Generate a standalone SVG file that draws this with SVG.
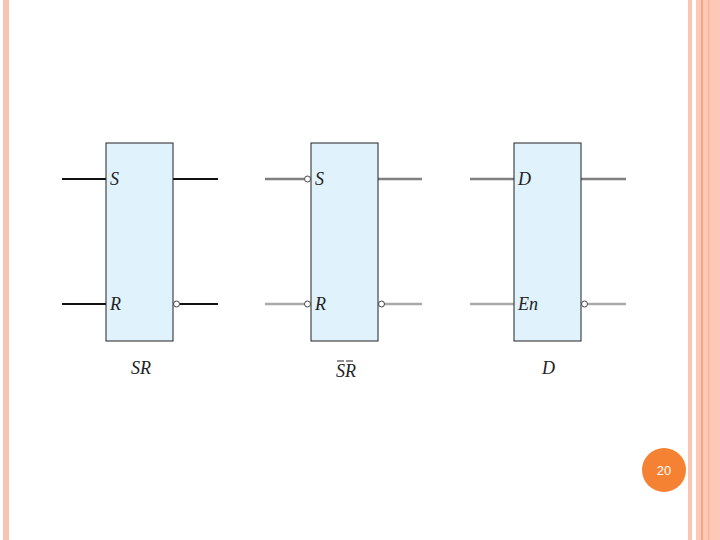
<svg xmlns="http://www.w3.org/2000/svg" width="720" height="540" viewBox="0 0 720 540">
<style>
.box{fill:#e0f2fc;stroke:#222;stroke-width:1}
.lbl{font-family:"Liberation Serif",serif;font-style:italic;font-size:18px;fill:#222}
.blk{stroke:#111;stroke-width:2}
.gry{stroke:#808080;stroke-width:2.5}
.lgr{stroke:#aaa;stroke-width:2.5}
.bub{fill:#fff;stroke:#444;stroke-width:1}
</style>
<rect width="720" height="540" fill="#fff"/>
<rect x="3" y="0" width="6" height="540" fill="#f9c4b0"/>
<rect x="688" y="0" width="4" height="540" fill="#f9c4b0"/>
<rect x="696" y="0" width="24" height="540" fill="#fbc9b6"/>
<rect x="701" y="0" width="2" height="540" fill="#f4a58a"/>
<rect x="708" y="0" width="1.5" height="540" fill="#f6b49c"/>
<g id="connectors">
<line class="blk" x1="62" y1="179" x2="106" y2="179"/>
<line class="blk" x1="62" y1="304" x2="106" y2="304"/>
<line class="blk" x1="173" y1="179" x2="218" y2="179"/>
<line class="blk" x1="180" y1="304" x2="218" y2="304"/>
<line class="gry" x1="265" y1="179" x2="304" y2="179"/>
<line class="lgr" x1="265" y1="304" x2="304" y2="304"/>
<line class="gry" x1="378" y1="179" x2="422" y2="179"/>
<line class="lgr" x1="385" y1="304" x2="422" y2="304"/>
<line class="gry" x1="470" y1="179" x2="514" y2="179"/>
<line class="lgr" x1="470" y1="304" x2="514" y2="304"/>
<line class="gry" x1="581" y1="179" x2="626" y2="179"/>
<line class="lgr" x1="588" y1="304" x2="626" y2="304"/>
</g>
<g id="sr">
<rect class="box" x="106" y="143" width="67" height="198"/>
<text class="lbl" x="110" y="185">S</text>
<text class="lbl" x="110" y="310">R</text>
<circle class="bub" cx="176.5" cy="304" r="3"/>
<text class="lbl" x="131" y="374">SR</text>
</g>
<g id="srbar">
<rect class="box" x="311" y="143" width="67" height="198"/>
<circle class="bub" cx="307.5" cy="179" r="3"/>
<circle class="bub" cx="307.5" cy="304" r="3"/>
<text class="lbl" x="315" y="185">S</text>
<text class="lbl" x="315" y="310">R</text>
<circle class="bub" cx="381.5" cy="304" r="3"/>
<text class="lbl" x="336" y="377">SR</text>
<line x1="337" y1="361" x2="344" y2="361" stroke="#222" stroke-width="1"/>
<line x1="346" y1="361" x2="353" y2="361" stroke="#222" stroke-width="1"/>
</g>
<g id="d">
<rect class="box" x="514" y="143" width="67" height="198"/>
<text class="lbl" x="518" y="185">D</text>
<text class="lbl" x="518" y="310">En</text>
<circle class="bub" cx="584.5" cy="304" r="3"/>
<text class="lbl" x="542" y="374">D</text>
</g>
<g id="page">
<circle cx="664" cy="470" r="22" fill="#f58232"/>
<text x="664" y="475" text-anchor="middle" font-family="Liberation Sans,sans-serif" font-size="13" fill="#fff">20</text>
</g>
</svg>
